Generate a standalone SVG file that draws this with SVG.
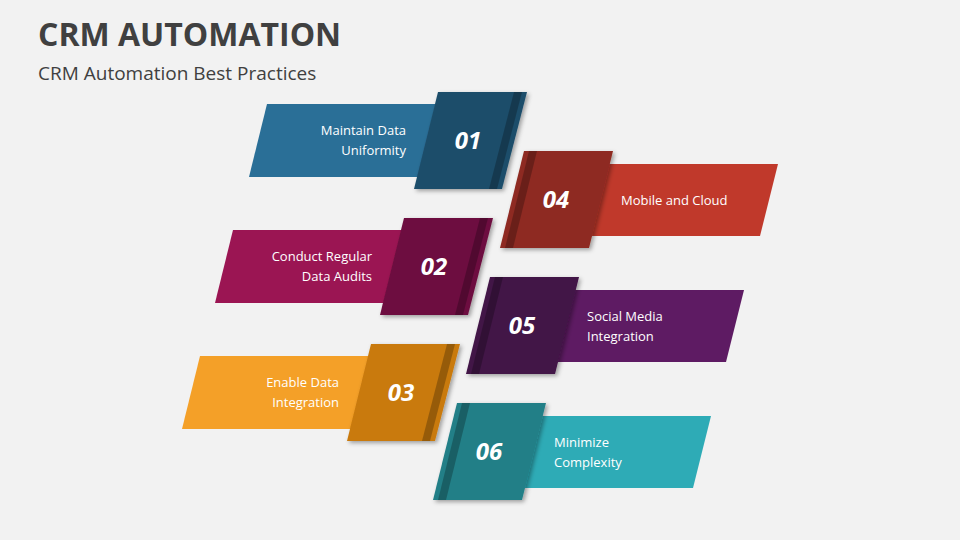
<svg xmlns="http://www.w3.org/2000/svg" width="960" height="540" viewBox="0 0 960 540">
<defs>
<filter id="sh" x="-20%" y="-20%" width="140%" height="140%"><feDropShadow dx="2" dy="2" stdDeviation="2" flood-opacity="0.35"/></filter>
<style>
.t{font-family:"Open Sans","Liberation Sans",sans-serif;font-size:13px;fill:#fff}
.n{font-family:"Open Sans","Liberation Sans",sans-serif;font-size:24px;font-weight:bold;font-style:italic;fill:#fff;text-anchor:middle}
.st{fill:#000;opacity:0.25}
</style>
</defs>
<rect width="960" height="540" fill="#f2f2f2"/>
<text x="38" y="46" font-family="Open Sans,Liberation Sans,sans-serif" font-size="32" font-weight="bold" fill="#404040">CRM AUTOMATION</text>
<text x="38" y="80" font-family="Open Sans,Liberation Sans,sans-serif" font-size="19" fill="#404040">CRM Automation Best Practices</text>
<g id="connectors"/>
<g id="n1">
<polygon points="267,104 450,104 432,177 249,177" fill="#2a6f97"/>
<polygon points="438,92 527,92 502,189 414,189" fill="#1f4e6b" filter="url(#sh)"/>
<polygon class="st" points="514,92 522,92 497,189 489,189"/>
<text class="t" x="406" y="135" text-anchor="end">Maintain Data</text>
<text class="t" x="406" y="155" text-anchor="end">Uniformity</text>
<text class="n" x="468" y="149">01</text>
</g>
<g id="n2" transform="translate(-34,126)">
<polygon points="267,104 450,104 432,177 249,177" fill="#9b1553"/>
<polygon points="438,92 527,92 502,189 414,189" fill="#6d0f3f" filter="url(#sh)"/>
<polygon class="st" points="514,92 522,92 497,189 489,189"/>
<text class="t" x="406" y="135" text-anchor="end">Conduct Regular</text>
<text class="t" x="406" y="155" text-anchor="end">Data Audits</text>
<text class="n" x="468" y="149">02</text>
</g>
<g id="n3" transform="translate(-67,252)">
<polygon points="267,104 450,104 432,177 249,177" fill="#f4a028"/>
<polygon points="438,92 527,92 502,189 414,189" fill="#c97a0f" filter="url(#sh)"/>
<polygon class="st" points="514,92 522,92 497,189 489,189"/>
<text class="t" x="406" y="135" text-anchor="end">Enable Data</text>
<text class="t" x="406" y="155" text-anchor="end">Integration</text>
<text class="n" x="468" y="149">03</text>
</g>
<g id="n4">
<polygon points="600,164 778,164 760,236 582,236" fill="#c0392b"/>
<polygon points="524,151 613,151 589,248 500,248" fill="#8e2a22" filter="url(#sh)"/>
<polygon class="st" points="529,151 537,151 513,248 505,248"/>
<text class="t" x="621" y="205">Mobile and Cloud</text>
<text class="n" x="556" y="208">04</text>
</g>
<g id="n5" transform="translate(-34,126)">
<polygon points="600,164 778,164 760,236 582,236" fill="#5e1b63"/>
<polygon points="524,151 613,151 589,248 500,248" fill="#431447" filter="url(#sh)"/>
<polygon class="st" points="529,151 537,151 513,248 505,248"/>
<text class="t" x="621" y="195">Social Media</text>
<text class="t" x="621" y="215">Integration</text>
<text class="n" x="556" y="208">05</text>
</g>
<g id="n6" transform="translate(-67,252)">
<polygon points="600,164 778,164 760,236 582,236" fill="#2eabb6"/>
<polygon points="524,151 613,151 589,248 500,248" fill="#237f87" filter="url(#sh)"/>
<polygon class="st" points="529,151 537,151 513,248 505,248"/>
<text class="t" x="621" y="195">Minimize</text>
<text class="t" x="621" y="215">Complexity</text>
<text class="n" x="556" y="208">06</text>
</g>
</svg>
